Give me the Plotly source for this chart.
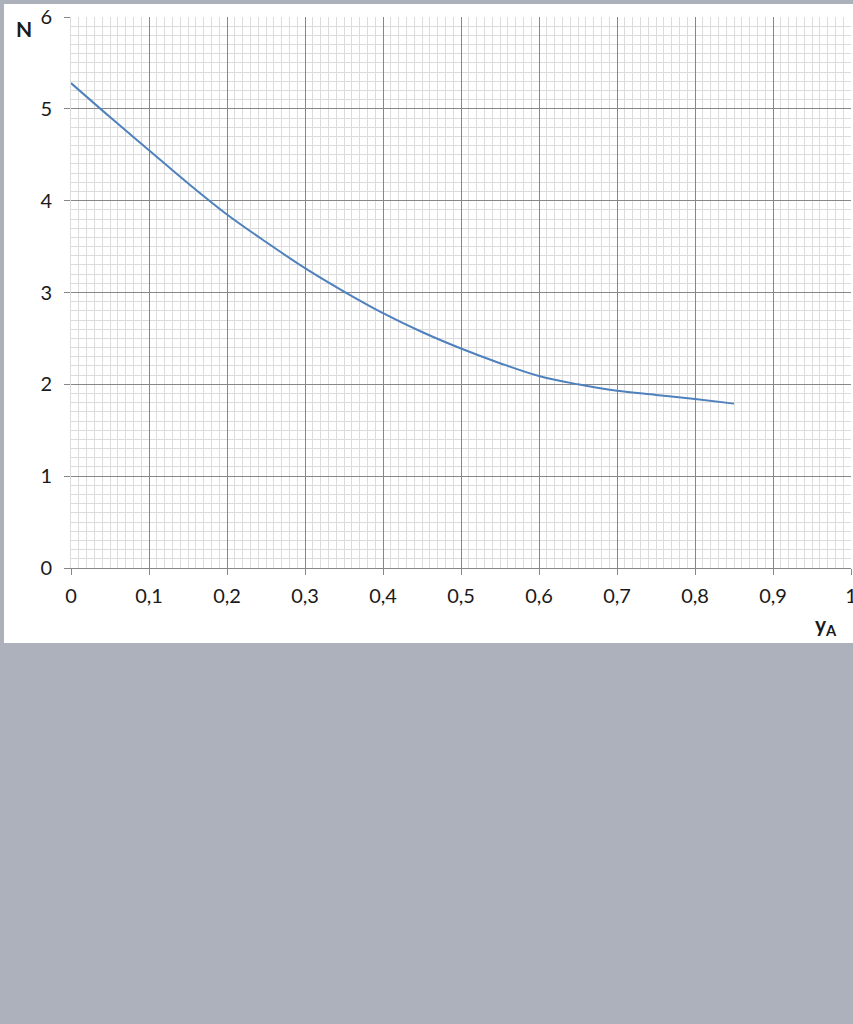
import plotly.graph_objects as go

# Data
y_a = [0.0, 0.05, 0.1, 0.15, 0.2, 0.25, 0.3, 0.35, 0.4, 0.45,
       0.5, 0.55, 0.6, 0.65, 0.7, 0.75, 0.8, 0.85]
n_stages = [5.28, 4.91, 4.55, 4.19, 3.85, 3.55, 3.265, 3.01, 2.775, 2.57,
            2.39, 2.23, 2.09, 2.0, 1.93, 1.885, 1.84, 1.79]

x_ticks = [0, 0.1, 0.2, 0.3, 0.4, 0.5, 0.6, 0.7, 0.8, 0.9, 1]
x_labels = ["0", "0,1", "0,2", "0,3", "0,4", "0,5", "0,6", "0,7", "0,8", "0,9", "1"]
y_ticks = [0, 1, 2, 3, 4, 5, 6]

FONT = "Lato"
MAJOR = "#878787"
MINOR = "#dcdcdc"

fig = go.Figure()

fig.add_trace(go.Scatter(
    x=y_a, y=n_stages,
    mode="lines",
    line=dict(color="#4f81bd", width=2, shape="spline"),
    showlegend=False,
))

fig.update_layout(
    width=853, height=1024,
    margin=dict(l=71, r=2, t=17, b=456),
    paper_bgcolor="#adb1bb",
    plot_bgcolor="white",
    font=dict(family=FONT, size=20, color="#1a1a1a"),
    shapes=[dict(
        type="rect", xref="paper", yref="paper", layer="below",
        x0=-0.0859, x1=1.01, y0=-0.136, y1=1.0236,
        fillcolor="white", line=dict(width=0),
    )],
    annotations=[
        dict(text="<b>N</b>", xref="paper", yref="paper",
             x=-0.06, y=0.98, xanchor="center", yanchor="middle",
             showarrow=False,
             font=dict(family=FONT, size=21, color="#1a1a1a")),
        dict(text="<b>y<sub>A</sub></b>", xref="paper", yref="paper",
             x=0.968, y=-0.103, xanchor="center", yanchor="middle",
             showarrow=False,
             font=dict(family=FONT, size=21, color="#1a1a1a")),
    ],
)

fig.update_xaxes(
    range=[0, 1], tickvals=x_ticks, ticktext=x_labels,
    showgrid=True, gridcolor=MAJOR, gridwidth=1,
    minor=dict(dtick=0.01, showgrid=True, gridcolor=MINOR, gridwidth=1),
    zeroline=False,
    showline=True, linecolor=MAJOR, linewidth=1,
    ticks="outside", ticklen=6, tickcolor=MAJOR,
    ticklabelstandoff=4, ticklabeloverflow="allow",
    automargin=False,
)
fig.update_yaxes(
    range=[0, 6], tickvals=y_ticks,
    showgrid=True, gridcolor=MAJOR, gridwidth=1,
    minor=dict(dtick=0.1, showgrid=True, gridcolor=MINOR, gridwidth=1),
    zeroline=False,
    showline=True, linecolor=MINOR, linewidth=1,
    ticks="outside", ticklen=6, tickcolor=MAJOR,
    ticklabelstandoff=8,
    automargin=False,
)

# drop the page's default body margin so the figure fills the window
fig.write_html("out.html", config={"displayModeBar": False},
               post_script="document.body.style.margin='0px';")
